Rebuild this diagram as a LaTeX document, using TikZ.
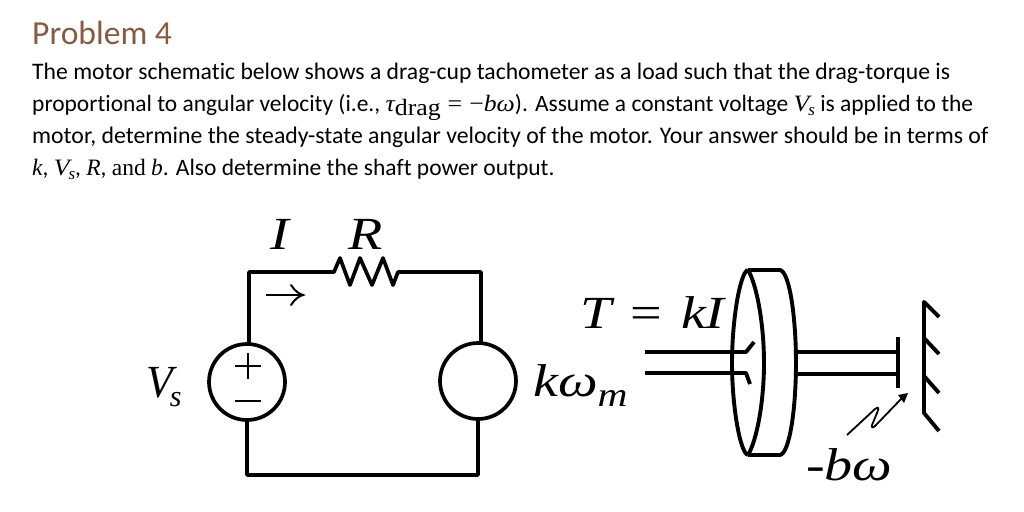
\documentclass[tikz,border=0pt]{standalone}
\usepackage{fontspec}
\setmainfont{Carlito}[Ligatures=NoCommon]
\newfontfamily\mathserif{Liberation Serif}[Ligatures=TeX]
\newcommand{\mi}[1]{{\mathserif\itshape #1}}
\newcommand{\mr}[1]{{\mathserif #1}}
\newcommand{\wide}[1]{\scalebox{1.22}[1]{#1}}
\newcommand{\inl}[1]{\scalebox{1.1}[1]{#1}}
\newcommand{\subs}{\raisebox{-4pt}{\fontsize{17}{18}\selectfont\mi{s}}}
\definecolor{headbrown}{HTML}{8A5A3C}
\tikzset{
  bodytext/.style={anchor=base west,inner sep=0pt,font=\fontsize{23.65}{28}\selectfont},
  eq/.style={anchor=base,inner sep=0pt,font=\fontsize{46}{50}\selectfont},
  wire/.style={line width=3.7pt,line join=round,line cap=round},
  mech/.style={line width=3.9pt,line join=round},
  circ/.style={circle,draw,line width=3.7pt,minimum size=76pt,inner sep=0pt,fill=white}
}
\begin{document}
\begin{tikzpicture}[x=1pt,y=-1pt]
\useasboundingbox (0,0) rectangle (1024,511);
\node[bodytext,text=headbrown,font=\fontsize{33.6}{38}\selectfont] (title) at (32,45) {Problem 4};
\node[bodytext] (l1) at (32,79) {The motor schematic below shows a drag-cup tachometer as a load such that the drag-torque is};
\node[bodytext,font=\fontsize{23.45}{28}\selectfont] (l2) at (32,111) {proportional to angular velocity (i.e., \inl{\mi{τ}\raisebox{-4pt}{\mr{drag}}}\hspace{7pt}\inl{\mr{=}}\hspace{7pt}\inl{\mr{−}\mi{bω}}). Assume a constant voltage \inl{\mi{V}}\hspace{-1pt}\subs{} is applied to the};
\node[bodytext,font=\fontsize{23.78}{28}\selectfont] (l3) at (32,143) {motor, determine the steady-state angular velocity of the motor. Your answer should be in terms of};
\node[bodytext,font=\fontsize{23.5}{28}\selectfont] (l4) at (32,175) {\mi{k}, \inl{\mi{V}}\hspace{-1pt}\subs{}, \mi{R}, \mr{and} \mi{b}. Also determine the shaft power output.};

% circuit
\node[circ] (src) at (247,382) {};
\node[circ] (mot) at (478,381) {};
\coordinate (tl) at (249,272);
\coordinate (tr) at (481,272);
\coordinate (bl) at (247,475);
\coordinate (br) at (478,475);
\coordinate (ra) at (334,272);
\coordinate (rb) at (398,272);
\draw[wire] (src.north -| tl) -- (tl) -- (ra)
  -- (340,258) -- (350,285) -- (360,258) -- (372,285) -- (383,258) -- (393,285) -- (rb)
  -- (tr) -- (mot.north -| tr);
\draw[wire] (src.south) -- (bl) -- (br) -- (mot.south);
\draw[line width=2.2pt] (235,366) -- (261,366) (248,353) -- (248,379);
\draw[line width=2.2pt] (235,401) -- (261,401);
\coordinate (ia) at (266,295);
\coordinate (ib) at (303,295);
\draw[line width=2pt] (ia) -- (ib);
\draw[line width=2pt,line cap=round] (291,285) .. controls (295,291) and (299,294) .. (ib) .. controls (299,296) and (295,299) .. (291,305);

\node[eq] (I) at (280,249) {\wide{\mi{I}}};
\node[eq] (R) at (366,249) {\wide{\mi{R}}};
\node[eq,anchor=base west] (Vs) at (146,397) {\scalebox{0.95}[1]{\mi{V}}\hspace{-3pt}\raisebox{-9pt}{\fontsize{30}{32}\selectfont\mi{s}}};
\node[eq,anchor=base west] (T) at (580,328) {\wide{\mi{T}}\hspace{19pt}\wide{\mr{=}}\hspace{19pt}\wide{\mi{kI}}};
\node[eq,anchor=base west] (kw) at (533,396) {\wide{\mi{kω}}\raisebox{-10pt}{\fontsize{34}{36}\selectfont\wide{\mi{m}}}};
\node[eq,anchor=base west] (bw) at (806,480) {\wide{\mi{-bω}}};

% disc and shafts
\coordinate (d1) at (748,270);
\coordinate (d2) at (748,455);
\coordinate (d3) at (780,270);
\coordinate (d4) at (780,455);
\draw[mech] (d1) -- (d3) .. controls (790,272) and (796,320) .. (796,363) .. controls (796,406) and (790,453) .. (d4) -- (d2);
\draw[mech] (d1) .. controls (740,272) and (732,320) .. (732,363) .. controls (732,406) and (740,453) .. (d2);
\draw[mech] (d1) .. controls (757,285) and (764,325) .. (764,363) .. controls (764,401) and (757,440) .. (d2);
\draw[mech] (645,352) -- (746,352) -- (754,342);
\draw[mech] (645,373) -- (746,373) -- (750,384);
\draw[mech] (796,352) -- (897,352);
\draw[mech] (796,374) -- (897,374);
\draw[mech] (898,337) -- (898,388);
\draw[mech] (939,317) -- (924,302) -- (924,413) -- (939,431);
\draw[mech] (924,338) -- (939,354);
\draw[mech] (924,376) -- (939,393);
\coordinate (sa) at (847,435);
\coordinate (sb) at (908,393);
\fill (sb) -- (898,395) -- (904,403) -- cycle;
\draw[line width=1.8pt,line join=round] (sa) -- (875,409) .. controls (879,406) and (879,408) .. (877,413) -- (872,425) .. controls (871,428) and (873,428) .. (875,426) -- (903,397);
\end{tikzpicture}
\end{document}
